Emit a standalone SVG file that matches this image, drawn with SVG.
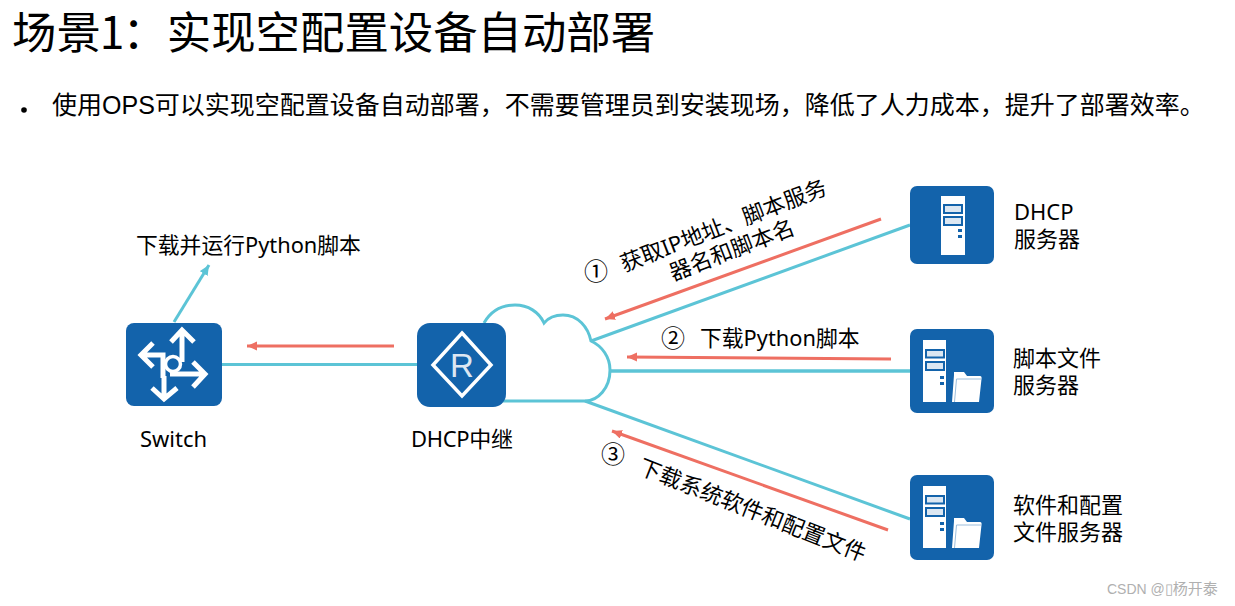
<svg xmlns="http://www.w3.org/2000/svg" width="1235" height="606" viewBox="0 0 1235 606">
<style>
text{font-family:"Noto Sans","Noto Sans CJK SC",sans-serif;fill:#000}
.t{font-size:22px}
.p{font-size:21.800px}
.n{font-size:24px;font-family:"Noto Sans CJK SC",sans-serif}
.box{fill:#1363ab}
.cy{stroke:#5cc4d6;fill:none;stroke-width:3}
.rd{stroke:#ee6f62;fill:none;stroke-width:3;marker-end:url(#ah)}
.wl{stroke:#fff;fill:none;stroke-width:5}
.w{fill:#fff}
.bar{fill:#dce7f2;stroke:#1363ab;stroke-width:2}
.dot{fill:#1363ab}
</style>
<defs>
<marker id="ah" markerUnits="userSpaceOnUse" markerWidth="12" markerHeight="10" refX="10" refY="4.500" orient="auto"><path d="M0 0L10 4.500L0 9Z" fill="#ee6f62"/></marker>
<marker id="ac" markerUnits="userSpaceOnUse" markerWidth="12" markerHeight="10" refX="10" refY="4.500" orient="auto"><path d="M0 0L10 4.500L0 9Z" fill="#5cc4d6"/></marker>
<g id="srv"><rect x="13" y="11" width="23" height="62" class="w"/><rect x="16" y="21" width="18" height="7.500" class="bar"/><rect x="16" y="33" width="18" height="8" class="bar"/><rect x="30" y="47" width="4" height="3" class="dot"/><rect x="30" y="53" width="4" height="3" class="dot"/><path d="M42 73L44 46V43H54L57 47H70Q72 47 71.500 50L69 73Z" class="w"/><path d="M44.500 73L46.500 50H71" fill="none" stroke="#9dbedc" stroke-width="1"/></g>
</defs>
<rect width="1235" height="606" fill="#fff"/>
<text x="12" y="49" style="font-size:44.400px;font-family:'Noto Sans CJK SC','Noto Sans',sans-serif">场景<tspan dx="-1">1</tspan><tspan dx="-2">：实现空配置设备自动部署</tspan></text>
<circle cx="24" cy="110" r="2.800" fill="#000"/>
<text x="52" y="114" style="font-size:25px">使用<tspan style="font-family:'Liberation Sans',sans-serif">OPS</tspan>可以实现空配置设备自动部署，不需要管理员到安装现场，降低了人力成本，提升了部署效率。</text>
<g id="connectors">
<path class="cy" d="M174 322L209 265" marker-end="url(#ac)"/>
<path class="cy" d="M222 364.500H417"/>
<path class="cy" d="M591 341L910 225"/>
<path class="cy" d="M610 371H910" style="stroke-width:3.500"/>
<path class="cy" d="M585 401L910 519"/>
<path class="rd" d="M394 346H247"/>
<path class="rd" d="M881 219L605 319"/>
<path class="rd" d="M891 359L627 357"/>
<path class="rd" d="M888 530L612 431"/>
</g>
<g id="cloud"><path class="cy" d="M484 323C492 309 504 305 515 305C528 305 539 312 544 323C549 317 556 315 563 315C578 315 588 327 591 341C602 346 610 357 610 370C610 388 598 401 585 401H500"/></g>
<g id="switch"><rect x="126" y="323" width="96" height="83" rx="8" class="box"/>
<path class="wl" d="M182 331V362M171 342L182 330L194 342M143 355H163V378M153 343L141 355L153 367M204 374H170M193 362L205 374L193 387M164 376V397M152 388L164 399L177 388"/>
<circle cx="173" cy="364" r="7.500" fill="#1363ab" stroke="#fff" stroke-width="3.500"/>
<text class="t" x="140" y="447">Switch</text></g>
<g id="relay"><rect x="417" y="323" width="89" height="84" rx="13" class="box"/>
<path d="M462 333L491 365L462 396L433 365Z" fill="none" stroke="#fff" stroke-width="3.500"/>
<text x="450" y="377" style="font-size:33px;font-family:'Liberation Sans',sans-serif;fill:#dce7f2">R</text>
<text class="t" x="411" y="447" textLength="102">DHCP中继</text></g>
<g id="dhcp-server"><rect x="910" y="186" width="84" height="78" rx="7" class="box"/>
<rect x="941" y="196" width="24" height="59" class="w"/><rect x="944" y="205" width="18" height="8" class="bar"/><rect x="944" y="217" width="18" height="8" class="bar"/><rect x="958" y="229" width="4" height="3" class="dot"/><rect x="958" y="235" width="4" height="3" class="dot"/>
<text class="t" x="1014" y="220">DHCP</text><text class="t" x="1014" y="247">服务器</text></g>
<g id="script-server"><rect x="910" y="329" width="84" height="84" rx="7" class="box"/><use href="#srv" x="910" y="329"/>
<text class="t" x="1013" y="366">脚本文件</text><text class="t" x="1013" y="393">服务器</text></g>
<g id="file-server"><rect x="910" y="475" width="84" height="85" rx="7" class="box"/><use href="#srv" x="910" y="475"/>
<text class="t" x="1013" y="513">软件和配置</text><text class="t" x="1013" y="540">文件服务器</text></g>
<g id="labels">
<text class="p" x="136" y="253">下载并运行Python脚本</text>
<text class="n" x="584" y="280">①</text>
<text class="t" transform="translate(624 272) rotate(-21)">获取IP地址、脚本服务</text>
<text class="t" transform="translate(673 281) rotate(-21)">器名和脚本名</text>
<text class="n" x="661" y="347">②</text>
<text class="p" x="700" y="346">下载Python脚本</text>
<text class="n" x="601" y="463">③</text>
<text class="t" transform="translate(637 473) rotate(21.500)">下载系统软件和配置文件</text>
</g>
<text x="1107" y="594" style="font-size:15px;fill:#b0b0b0"><tspan style="font-size:14px;font-family:'Liberation Sans',sans-serif">CSDN @</tspan>▯杨开泰</text>
</svg>
